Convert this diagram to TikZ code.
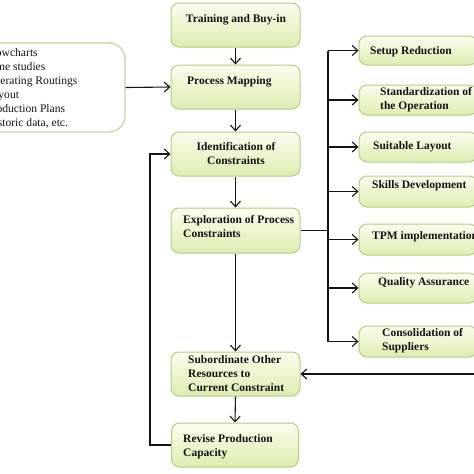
\documentclass[tikz,border=0pt]{standalone}
\usepackage{fontspec}
\setmainfont{Liberation Serif}
\usetikzlibrary{arrows.meta}
\definecolor{boxtop}{HTML}{FBFDEE}
\definecolor{boxbot}{HTML}{DCEDB0}
\definecolor{boxline}{HTML}{B5CD84}
\definecolor{srcline}{HTML}{C5D2A6}
\definecolor{inkc}{HTML}{141414}
\tikzset{
  gbox/.style={draw=boxline, line width=1pt, rounded corners=8pt, top color=boxtop, bottom color=boxbot, inner sep=0pt},
  lbl/.style={font=\fontsize{11.5}{14}\selectfont\bfseries, text=inkc, inner sep=0pt},
  srcbox/.style={draw=srcline, line width=1.2pt, rounded corners=16pt, fill=white},
  srctxt/.style={font=\fontsize{11.6}{14}\selectfont, text=inkc, inner sep=0pt, align=left, anchor=west},
  arr/.style={draw=inkc, line width=1.1pt, -{Straight Barb[length=5.5pt,width=10pt,line width=1.1pt]}},
  thk/.style={draw=inkc, line width=1.7pt}
}
\begin{document}
\begin{tikzpicture}[x=1pt,y=-1pt]
\useasboundingbox (0,0) rectangle (474,474);
\fill[white] (0,0) rectangle (474,474);
\clip (0,0) rectangle (474,474);
% main column
\node[gbox, minimum width=129pt, minimum height=44pt] (b1) at (235.5,25) {};
\node[gbox, minimum width=129pt, minimum height=44pt] (b2) at (235.5,87) {};
\node[gbox, minimum width=129pt, minimum height=44pt] (b3) at (235.5,154) {};
\node[gbox, minimum width=129pt, minimum height=45pt] (b4) at (235.5,230.5) {};
\node[gbox, minimum width=129pt, minimum height=44pt] (b5) at (235.5,374) {};
\node[gbox, minimum width=127pt, minimum height=44pt] (b6) at (235,445) {};
\node[lbl] (t1) at (236,20) {Training and Buy-in};
\node[lbl, anchor=west] (t2) at (187,82) {Process Mapping};
\node[lbl, align=center] (t3) at (236,154) {Identification of\\Constraints};
\node[lbl, align=left, anchor=west] (t4) at (183,227) {Exploration of Process\\Constraints};
\node[lbl, align=left, anchor=west] (t5) at (188,374) {Subordinate Other\\Resources to\\Current Constraint};
\node[lbl, align=left, anchor=west] (t6) at (183,447) {Revise Production\\Capacity};
% source box
\node[srcbox, minimum width=160pt, minimum height=89pt] (src) at (45,87.5) {};
\node[srctxt] (st) at (-14,88) {Flowcharts\\Time studies\\Operating Routings\\Layout\\Production Plans\\Historic data, etc.};
% right column
\node[gbox, minimum width=118pt, minimum height=29pt] (r1) at (418,50.5) {};
\node[gbox, minimum width=118pt, minimum height=30pt] (r2) at (418,100) {};
\node[gbox, minimum width=118pt, minimum height=30pt] (r3) at (418,147) {};
\node[gbox, minimum width=118pt, minimum height=31pt] (r4) at (418,191.5) {};
\node[gbox, minimum width=118pt, minimum height=31pt] (r5) at (418,239.5) {};
\node[gbox, minimum width=118pt, minimum height=30pt] (r6) at (418,288) {};
\node[gbox, minimum width=118pt, minimum height=31pt] (r7) at (418,341.5) {};
\node[lbl, anchor=west] (u1) at (370,52) {Setup Reduction};
\node[lbl, anchor=west, align=left] (u2) at (380,99.5) {Standardization of\\the Operation};
\node[lbl, anchor=west] (u3) at (373,147) {Suitable Layout};
\node[lbl, anchor=west] (u4) at (372,186) {Skills Development};
\node[lbl, anchor=west] (u5) at (372,237) {TPM implementation};
\node[lbl, anchor=west] (u6) at (378,283) {Quality Assurance};
\node[lbl, anchor=west, align=left] (u7) at (382,341) {Consolidation of\\Suppliers};
% connectors
\coordinate (bt) at (328,50.5);
\coordinate (bb) at (328,341.5);
\coordinate (ret) at (476,374);
\draw[arr] (b1.south) -- (b2.north);
\draw[arr] (b2.south) -- (b3.north);
\draw[arr] (b3.south) -- (b4.north);
\draw[arr] (b4.south) -- (b5.north);
\draw[arr] (b5.south) -- (b6.north);
\draw[arr] (src.east) -- (b2.west);
\draw[arr] (b6.west) -- ++(-21,0) |- (b3.west);
\draw[thk] (b4.east) -- (b4.east -| bt);
\draw[thk] (bt) -- (bb);
\draw[arr] (bt) -- (r1.west);
\draw[arr] (r2.west -| bt) -- (r2.west);
\draw[arr] (r3.west -| bt) -- (r3.west);
\draw[arr] (r4.west -| bt) -- (r4.west);
\draw[arr] (r5.west -| bt) -- (r5.west);
\draw[arr] (r6.west -| bt) -- (r6.west);
\draw[arr] (bb) -- (r7.west);
\draw[arr, line width=1.7pt] (ret) -- (b5.east);
\end{tikzpicture}
\end{document}
